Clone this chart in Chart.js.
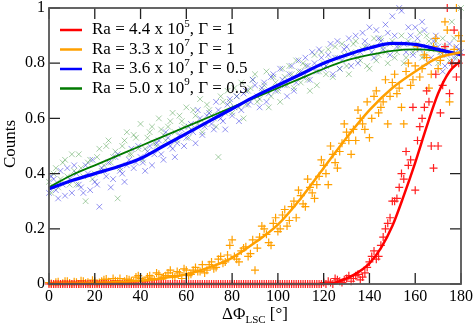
<!DOCTYPE html>
<html>
<head>
<meta charset="utf-8">
<script src="https://cdn.jsdelivr.net/npm/chart.js@4/dist/chart.umd.min.js"></script>
<style>
  html, body { margin: 0; padding: 0; background: #fff; }
  #wrap { width: 474px; height: 326px; }
</style>
</head>
<body>
<div id="wrap"><canvas id="myChart" width="474" height="326"></canvas></div>
<script>
// measured angles (deg), even and odd bins
const angles = [0,2,4,6,8,10,12,14,16,18,20,22,24,26,28,30,32,34,36,38,40,42,44,46,48,50,52,54,56,58,60,62,64,66,68,70,72,74,76,78,80,82,84,86,88,90,92,94,96,98,100,102,104,106,108,110,112,114,116,118,120,122,124,126,128,130,132,134,136,138,140,142,144,146,148,150,152,154,156,158,160,162,164,166,168,170,172,174,176,178,180];
const anglesOdd = [1,3,5,7,9,11,13,15,17,19,21,23,25,27,29,31,33,35,37,39,41,43,45,47,49,51,53,55,57,59,61,63,65,67,69,71,73,75,77,79,81,83,85,87,89,91,93,95,97,99,101,103,105,107,109,111,113,115,117,119,121,123,125,127,129,131,133,135,137,139,141,143,145,147,149,151,153,155,157,159,161,163,165,167,169,171,173,175,177,179];

const redPts = [0,0,0,0,0,0,0,0,0,0,0,0,0,0,0,0,0,0,0,0,0,0,0,0,0,0,0,0,0,0,0,0,0,0,0,0,0,0,0,0,0,0,0,0,0,0,0,0,0,0,0,0,0,0,0,0,0,0,0,0,
  0.005,0.01,0,0.015,0.005,0.02,0.01,0.03,0.015,0.04,0.08,0.12,0.10,0.17,0.22,0.30,0.31,0.40,0.48,0.45,0.34,0.57,0.64,0.66,0.42,0.50,0.72,1.0,0.80,0.75,0.83];
const redPtsOdd = [0,0,0,0,0,0,0,0,0,0,0,0,0,0,0,0,0,0,0,0,0,0,0,0,0,0,0,0,0,0,0,0,0,0,0,0,0,0,0,0,0,0,0,0,0,0,0,0,0,0,0,0,0,0,0,0,0,0,0,0,
  0,0.005,0.02,0.01,0.015,0.03,0.02,0.035,0.025,0.06,0.1,0.09,0.14,0.2,0.24,0.3,0.35,0.38,0.43,0.64,0.52,0.60,0.70,0.5,0.76,0.62,0.86,0.69,0.92,0.8];
const orangePts = [0.005,0,0.008,0.003,0.01,0,0.006,0.012,0.004,0,0.01,0.005,0.015,0.008,0.02,0.01,0.005,0.018,0.012,0.025,
  0.02,0.01,0.03,0.015,0.035,0.025,0.04,0.03,0.045,0.02,0.05,0.035,0.06,0.045,0.04,0.07,0.055,0.09,0.075,0.105,
  0.16,0.09,0.12,0.135,0.11,0.05,0.17,0.2,0.15,0.22,0.19,0.25,0.21,0.28,0.24,0.32,0.28,0.35,0.31,0.39,
  0.43,0.36,0.47,0.42,0.51,0.55,0.47,0.52,0.60,0.56,0.53,0.68,0.62,0.66,0.58,0.73,0.69,0.64,0.77,0.72,
  0.79,0.75,0.83,0.71,0.86,0.78,0.84,0.92,0.80,1.0,0.88];
const orangePtsOdd = [0.002,0.006,0,0.01,0.004,0.008,0,0.01,0.006,0.014,0.003,0.01,0.018,0.006,0.012,0.02,0.01,0.015,0.008,0.03,
  0.012,0.025,0.02,0.04,0.018,0.03,0.05,0.025,0.04,0.055,0.03,0.05,0.045,0.07,0.05,0.08,0.06,0.1,0.08,0.14,
  0.1,0.08,0.13,0.1,0.16,0.13,0.21,0.18,0.14,0.24,0.2,0.27,0.23,0.3,0.34,0.29,0.38,0.33,0.36,0.45,
  0.4,0.5,0.44,0.48,0.58,0.52,0.56,0.63,0.58,0.66,0.6,0.7,0.64,0.74,0.68,0.76,0.71,0.58,0.8,0.74,
  0.86,0.78,0.82,0.76,0.89,0.81,0.95,0.66,0.85,0.9];
const bluePts = [0.33,0.38,0.31,0.36,0.42,0.33,0.40,0.35,0.43,0.34,0.37,0.28,0.41,0.44,0.38,0.47,0.40,0.43,0.49,0.44,
  0.46,0.41,0.50,0.47,0.52,0.45,0.53,0.49,0.51,0.56,0.53,0.58,0.51,0.60,0.57,0.62,0.56,0.63,0.59,0.65,
  0.61,0.68,0.63,0.70,0.66,0.72,0.64,0.73,0.69,0.76,0.71,0.74,0.68,0.79,0.73,0.77,0.82,0.74,0.80,0.85,
  0.78,0.83,0.76,0.88,0.81,0.86,0.79,0.90,0.84,0.88,0.93,0.82,0.89,0.85,0.91,0.97,0.86,0.99,0.84,0.90,
  0.93,0.85,0.92,0.80,0.88,0.86,0.77,0.83,0.80,0.86,0.84];
const bluePtsOdd = [0.39,0.34,0.41,0.32,0.38,0.43,0.36,0.33,0.40,0.45,0.36,0.42,0.39,0.35,0.46,0.41,0.37,0.45,0.42,0.50,
  0.44,0.48,0.43,0.51,0.47,0.55,0.50,0.46,0.54,0.50,0.57,0.55,0.63,0.54,0.61,0.58,0.66,0.60,0.56,0.67,
  0.64,0.59,0.69,0.65,0.74,0.68,0.71,0.66,0.75,0.70,0.78,0.72,0.76,0.70,0.81,0.75,0.79,0.84,0.77,0.82,
  0.79,0.87,0.82,0.78,0.85,0.89,0.83,0.80,0.91,0.86,0.84,0.92,0.88,0.94,0.83,0.90,1.0,0.87,0.93,0.83,
  0.89,0.95,0.86,0.82,0.90,0.84,0.79,0.87,0.82,0.85];
const greenPts = [0.37,0.40,0.35,0.44,0.39,0.47,0.36,0.42,0.30,0.45,0.40,0.49,0.43,0.52,0.46,0.31,0.50,0.55,0.47,0.53,
  0.58,0.49,0.55,0.51,0.60,0.54,0.57,0.62,0.52,0.59,0.64,0.56,0.61,0.67,0.58,0.63,0.60,0.46,0.66,0.70,
  0.62,0.68,0.73,0.65,0.71,0.76,0.67,0.72,0.64,0.75,0.70,0.78,0.72,0.76,0.81,0.73,0.79,0.70,0.83,0.77,
  0.80,0.85,0.75,0.82,0.87,0.79,0.84,0.88,0.81,0.86,0.78,0.89,0.83,0.86,0.80,0.88,0.84,0.90,0.82,0.87,
  0.85,0.91,0.83,0.88,0.86,0.80,0.89,0.84,0.95,0.82,1.0];
const greenPtsOdd = [0.33,0.42,0.38,0.45,0.36,0.41,0.47,0.39,0.44,0.38,0.46,0.41,0.50,0.44,0.48,0.42,0.52,0.47,0.54,0.49,
  0.45,0.53,0.57,0.50,0.56,0.52,0.59,0.55,0.61,0.57,0.53,0.63,0.58,0.55,0.65,0.61,0.57,0.68,0.62,0.66,
  0.71,0.64,0.60,0.70,0.74,0.66,0.70,0.77,0.68,0.73,0.66,0.75,0.79,0.71,0.77,0.80,0.74,0.78,0.72,0.84,
  0.76,0.81,0.86,0.78,0.83,0.76,0.87,0.82,0.85,0.79,0.86,0.81,0.89,0.84,0.87,0.82,0.86,0.80,0.88,0.84,
  0.87,0.82,0.90,0.85,0.88,0.83,0.86,0.81,0.89,0.84];

// fitted curves
const fitAngles = [0,10,20,30,40,50,60,70,80,90,100,110,120,130,140,150,160,170,180];
const orangeFit = [0,0.002,0.004,0.007,0.012,0.022,0.035,0.06,0.095,0.15,0.215,0.31,0.42,0.53,0.63,0.71,0.77,0.82,0.84];
const blueFit = [0.345,0.375,0.40,0.425,0.455,0.50,0.545,0.59,0.635,0.68,0.72,0.76,0.80,0.83,0.855,0.872,0.868,0.85,0.83];
const greenFit = [0.35,0.395,0.43,0.465,0.50,0.535,0.57,0.605,0.64,0.675,0.71,0.745,0.78,0.81,0.83,0.845,0.85,0.845,0.835];
const redFitAngles = [0,40,80,110,120,125,130,135,140,145,150,155,160,165,170,175,180];
const redFit = [0,0,0,0,0,0.005,0.02,0.042,0.075,0.13,0.21,0.32,0.44,0.57,0.69,0.77,0.81];

const xTicks = [0,20,40,60,80,100,120,140,160,180];
const yTicks = [0,0.2,0.4,0.6,0.8,1];

const legendItems = [
  { color: '#ff0000', parts: ['Ra = 4.4 x 10', '5', ', \u0393 = 1'] },
  { color: '#ffa000', parts: ['Ra = 3.3 x 10', '7', ', \u0393 = 1'] },
  { color: '#0000ff', parts: ['Ra = 3.6 x 10', '7', ', \u0393 = 0.5'] },
  { color: '#007a00', parts: ['Ra = 5.0 x 10', '9', ', \u0393 = 0.5'] }
];

const serif = '"Liberation Serif", "Times New Roman", "DejaVu Serif", serif';

const pts = (xs, ys) => ys.map((v, i) => ({ x: xs[i], y: v }));

// frame, inner ticks, legend, titles
const decor = {
  id: 'decor',
  afterDraw(chart) {
    const { ctx, chartArea: a, scales: { x, y } } = chart;
    ctx.save();
    ctx.strokeStyle = '#222';
    ctx.lineWidth = 1.3;
    xTicks.forEach(v => {
      const px = x.getPixelForValue(v);
      ctx.beginPath();
      ctx.moveTo(px, a.bottom); ctx.lineTo(px, a.bottom - 11);
      ctx.moveTo(px, a.top); ctx.lineTo(px, a.top + 11);
      ctx.stroke();
    });
    yTicks.forEach(v => {
      const py = y.getPixelForValue(v);
      ctx.beginPath();
      ctx.moveTo(a.left, py); ctx.lineTo(a.left + 11, py);
      ctx.moveTo(a.right, py); ctx.lineTo(a.right - 11, py);
      ctx.stroke();
    });
    ctx.strokeStyle = '#555';
    ctx.lineWidth = 1.8;
    ctx.strokeRect(a.left, a.top, a.right - a.left, a.bottom - a.top);

    // legend
    ctx.textBaseline = 'middle';
    ctx.textAlign = 'left';
    legendItems.forEach((it, i) => {
      const ly = 30 + i * 19.5;
      ctx.strokeStyle = it.color;
      ctx.lineWidth = 2.5;
      ctx.beginPath();
      ctx.moveTo(60, ly); ctx.lineTo(82, ly);
      ctx.stroke();
      ctx.fillStyle = '#000';
      let tx = 92;
      ctx.font = '17px ' + serif;
      ctx.fillText(it.parts[0], tx, ly);
      tx += ctx.measureText(it.parts[0]).width;
      ctx.font = '11px ' + serif;
      ctx.fillText(it.parts[1], tx, ly - 6);
      tx += ctx.measureText(it.parts[1]).width;
      ctx.font = '17px ' + serif;
      ctx.fillText(it.parts[2], tx, ly);
    });

    // x title with subscript
    const main = '\u0394\u03A6', sub = 'LSC', tail = ' [\u00B0]';
    ctx.font = '17px ' + serif;
    const w1 = ctx.measureText(main).width, w3 = ctx.measureText(tail).width;
    ctx.font = '11px ' + serif;
    const w2 = ctx.measureText(sub).width;
    let sx = (a.left + a.right) / 2 - (w1 + w2 + w3) / 2;
    const by = 315;
    ctx.font = '17px ' + serif;
    ctx.fillText(main, sx, by);
    sx += w1;
    ctx.font = '11px ' + serif;
    ctx.fillText(sub, sx, by + 5);
    sx += w2;
    ctx.font = '17px ' + serif;
    ctx.fillText(tail, sx, by);

    // y title
    ctx.translate(11, 144);
    ctx.rotate(-Math.PI / 2);
    ctx.textAlign = 'center';
    ctx.fillText('Counts', 0, 0);
    ctx.restore();
  }
};

const ctx = document.getElementById('myChart').getContext('2d');
const myChart = new Chart(ctx, {
  type: 'scatter',
  data: {
    datasets: [
      { data: pts(redFitAngles, redFit), showLine: true, borderColor: '#ff0000', borderWidth: 2.5, pointRadius: 0, cubicInterpolationMode: 'monotone', order: 0 },
      { data: pts(fitAngles, orangeFit), showLine: true, borderColor: '#ffa000', borderWidth: 2.5, pointRadius: 0, cubicInterpolationMode: 'monotone', order: 0 },
      { data: pts(fitAngles, blueFit), showLine: true, borderColor: '#0000ff', borderWidth: 3.2, pointRadius: 0, cubicInterpolationMode: 'monotone', order: 0 },
      { data: pts(fitAngles, greenFit), showLine: true, borderColor: '#007a00', borderWidth: 1.8, pointRadius: 0, cubicInterpolationMode: 'monotone', order: 0 },
      { data: pts(angles, redPts).concat(pts(anglesOdd, redPtsOdd)), pointStyle: 'cross', pointRadius: 4, borderColor: '#ff2020', borderWidth: 1.2, order: 1 },
      { data: pts(angles, orangePts).concat(pts(anglesOdd, orangePtsOdd)), pointStyle: 'cross', pointRadius: 4, borderColor: '#ffa000', borderWidth: 1.2, order: 2 },
      { data: pts(angles, bluePts).concat(pts(anglesOdd, bluePtsOdd)), pointStyle: 'crossRot', pointRadius: 4, borderColor: 'rgba(60,60,230,0.55)', borderWidth: 1, order: 3 },
      { data: pts(angles, greenPts).concat(pts(anglesOdd, greenPtsOdd)), pointStyle: 'crossRot', pointRadius: 4, borderColor: 'rgba(80,160,80,0.5)', borderWidth: 1, order: 4 }
    ]
  },
  options: {
    responsive: false,
    animation: false,
    clip: false,
    layout: { padding: { top: 8, right: 13, left: 0, bottom: 0 } },
    plugins: { legend: { display: false }, tooltip: { enabled: false } },
    scales: {
      x: {
        type: 'linear', min: 0, max: 180,
        afterFit: s => { s.height = 42; s.paddingLeft = 0; s.paddingRight = 0; },
        afterBuildTicks: s => { s.ticks = xTicks.map(v => ({ value: v })); },
        grid: { display: false, drawTicks: false },
        border: { display: false },
        ticks: { padding: 3, color: '#000', font: { family: serif, size: 16 }, maxRotation: 0 }
      },
      y: {
        min: 0, max: 1,
        afterFit: s => { s.width = 49; s.paddingTop = 0; s.paddingBottom = 0; },
        afterBuildTicks: s => { s.ticks = yTicks.map(v => ({ value: v })); },
        grid: { display: false, drawTicks: false },
        border: { display: false },
        ticks: { padding: 4, color: '#000', font: { family: serif, size: 16 }, callback: v => String(v) }
      }
    }
  },
  plugins: [decor]
});
</script>
</body>
</html>
